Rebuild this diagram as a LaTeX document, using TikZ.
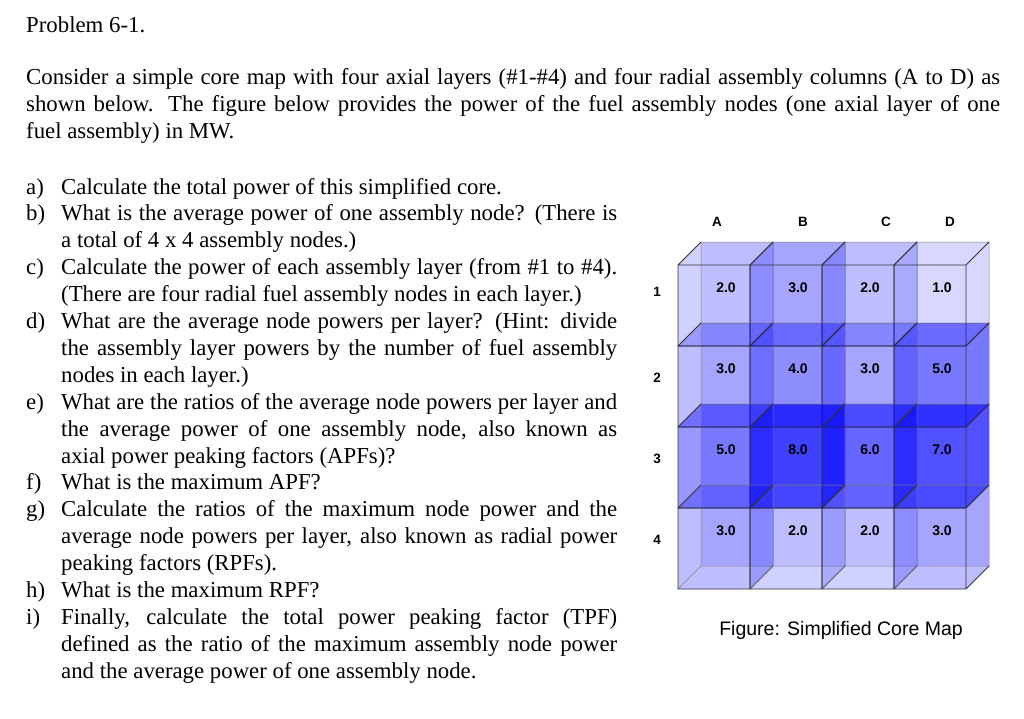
\documentclass[tikz,border=0pt]{standalone}
\usepackage{fontspec}
\setmainfont{Liberation Serif}
\newfontfamily\arial{Liberation Sans}
\begin{document}
\begin{tikzpicture}[x=1pt,y=-1pt,
  body/.style={anchor=base west,inner sep=0pt,font=\fontsize{22.8}{26}\selectfont},
  lab/.style={font=\arial\bfseries\fontsize{13.5}{15}\selectfont,inner sep=0pt},
  val/.style={font=\arial\bfseries\fontsize{14}{16}\selectfont,inner sep=0pt},
  edge/.style={draw=black!80,line width=0.8pt}]
\useasboundingbox (0,0) rectangle (1024,718);
\fill[white] (0,0) rectangle (1024,718);
\node[body] (t0) at (26,32) {Problem 6-1.};
\node[body] (p1) at (26,84) {\makebox[974pt][s]{Consider a simple core map with four axial layers (\#1-\#4) and four radial assembly columns (A to D) as}};
\node[body] (p2) at (26,111) {\makebox[974pt][s]{shown below. The figure below provides the power of the fuel assembly nodes (one axial layer of one}};
\node[body] (p3) at (26,138) {fuel assembly) in MW.};
\foreach \i/\l/\t/\j in {0/a)/Calculate the total power of this simplified core./0,
1/b)/What is the average power of one assembly node? (There is/1,
2//a total of 4 x 4 assembly nodes.)/0,
3/c)/Calculate the power of each assembly layer (from \#1 to \#4)./1,
4//(There are four radial fuel assembly nodes in each layer.)/0,
5/d)/What are the average node powers per layer? (Hint: divide/1,
6//the assembly layer powers by the number of fuel assembly/1,
7//nodes in each layer.)/0,
8/e)/What are the ratios of the average node powers per layer and/1,
9//the average power of one assembly node{,} also known as/1,
10//axial power peaking factors (APFs)?/0,
11/f)/What is the maximum APF?/0,
12/g)/Calculate the ratios of the maximum node power and the/1,
13//average node powers per layer{,} also known as radial power/1,
14//peaking factors (RPFs)./0,
15/h)/What is the maximum RPF?/0,
16/i)/Finally{,} calculate the total power peaking factor (TPF)/1,
17//defined as the ratio of the maximum assembly node power/1,
18//and the average power of one assembly node./0}{
  \node[body] (l\i) at (26,194+26.9*\i) {\l};
  \ifnum\j=1
    \node[body] (m\i) at (61,194+26.9*\i) {\makebox[556pt][s]{\t}};
  \else
    \node[body] (m\i) at (61,194+26.9*\i) {\t};
  \fi
}
% cubes
\def\dx{23}\def\dy{-23}
\foreach \r/\vals in {1/{2.0,3.0,2.0,1.0},2/{3.0,4.0,3.0,5.0},3/{5.0,8.0,6.0,7.0},4/{3.0,2.0,2.0,3.0}}{
  \foreach \v [count=\c] in \vals {
    \pgfmathsetmacro\xa{678+72*(\c-1)}
    \pgfmathsetmacro\ya{265+81*(\r-1)}
    \pgfmathsetmacro\xb{\xa+72}
    \pgfmathsetmacro\yb{\ya+81}
    \pgfmathsetmacro\op{0.03+0.075*\v}
    \fill[blue,fill opacity=\op] (\xa,\ya) -- (\xa+\dx,\ya+\dy) -- (\xb+\dx,\ya+\dy) -- (\xb+\dx,\yb+\dy) -- (\xb,\yb) -- (\xa,\yb) -- cycle;
    \fill[blue,fill opacity=0.5*\op] (\xa+\dx,\ya+\dy) rectangle (\xb+\dx,\yb+\dy);
    \draw[black!50,line width=0.5pt] (\xa+\dx,\ya+\dy) rectangle (\xb+\dx,\yb+\dy)
      (\xa,\yb) -- (\xa+\dx,\yb+\dy);
    \draw[edge] (\xa,\ya) rectangle (\xb,\yb)
      (\xa,\ya) -- (\xa+\dx,\ya+\dy) (\xb,\ya) -- (\xb+\dx,\ya+\dy) (\xb,\yb) -- (\xb+\dx,\yb+\dy);
    \node[val] (v\r\c) at (\xa+48,\ya+23) {\v};
  }
}
\foreach \n/\x in {A/717,B/803,C/886,D/950}{\node[lab] (c\n) at (\x,222) {\n};}
\foreach \n/\y in {1/292,2/378,3/459,4/540}{\node[lab] (r\n) at (657,\y) {\n};}
\node[font=\arial\fontsize{19.5}{22}\selectfont,inner sep=0pt] (cap) at (841,630) {Figure: Simplified Core Map};
\end{tikzpicture}
\end{document}
